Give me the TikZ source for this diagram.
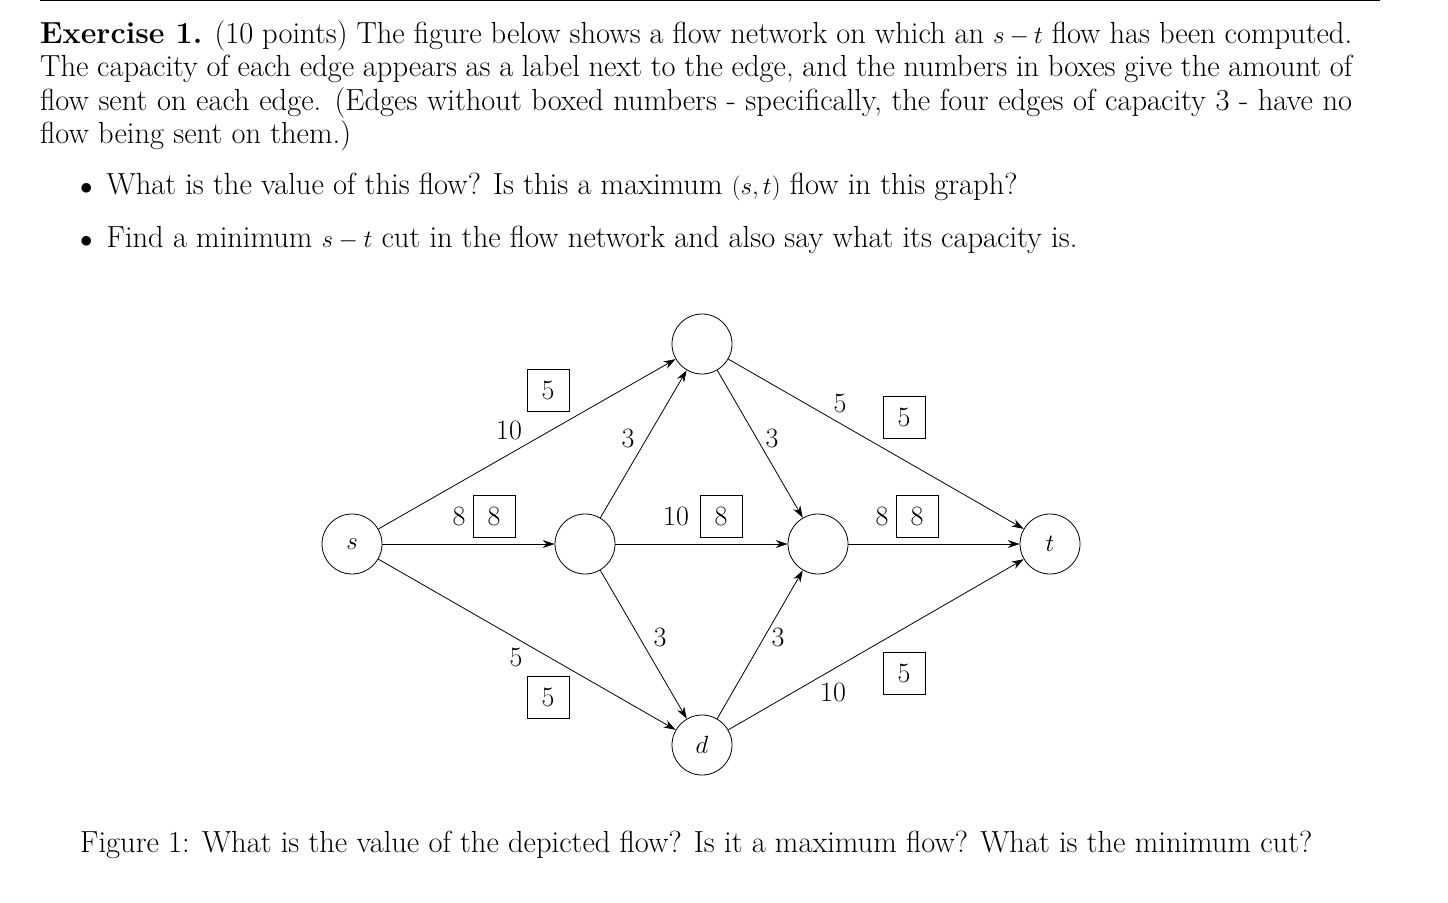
\documentclass[tikz,border=0pt]{standalone}
\usetikzlibrary{arrows.meta}
\begin{document}
\begin{tikzpicture}[x=1pt,y=-1pt,
  vtx/.style={circle,draw,thick,minimum size=60pt,inner sep=0pt,font=\fontsize{28}{30}\selectfont},
  edge/.style={thick,-{Stealth[length=12pt,width=8pt]}},
  caplbl/.style={font=\fontsize{28}{30}\selectfont,inner sep=0pt},
  fl/.style={draw,thick,minimum size=42pt,inner sep=0pt,font=\fontsize{28}{30}\selectfont},
  txt/.style={font=\fontsize{30.5}{33.5}\selectfont,inner sep=0pt}]
\useasboundingbox (0,0) rectangle (1448,902);
\draw[thin] (40,0) -- (1380,0);
\node[txt,anchor=north west,text width=1312pt,align=justify] (para) at (40,20)
{\textbf{Exercise 1.} (10 points) The figure below shows a flow network on which an $s-t$ flow has been computed. The capacity of each edge appears as a label next to the edge, and the numbers in boxes give the amount of flow sent on each edge. (Edges without boxed numbers - specifically, the four edges of capacity 3 - have no flow being sent on them.)};
\node[txt,anchor=base west] (b1) at (80,194) {$\bullet$\hspace{14pt}What is the value of this flow? Is this a maximum $(s,t)$ flow in this graph?};
\node[txt,anchor=base west] (b2) at (80,247) {$\bullet$\hspace{14pt}Find a minimum $s-t$ cut in the flow network and also say what its capacity is.};
\node[vtx] (s) at (352,544) {$s$};
\node[vtx] (a) at (702,344) {};
\node[vtx] (b) at (585,544) {};
\node[vtx] (c) at (818,544) {};
\node[vtx] (t) at (1050,544) {$t$};
\node[vtx] (d) at (702,745) {$d$};
\draw[edge] (s) -- (a);
\draw[edge] (s) -- (b);
\draw[edge] (s) -- (d);
\draw[edge] (b) -- (a);
\draw[edge] (a) -- (c);
\draw[edge] (a) -- (t);
\draw[edge] (b) -- (c);
\draw[edge] (c) -- (t);
\draw[edge] (b) -- (d);
\draw[edge] (d) -- (c);
\draw[edge] (d) -- (t);
\node[caplbl] (l1) at (509,430) {10}; \node[fl] (f1) at (548,390) {5};
\node[caplbl] (l2) at (459,516) {8}; \node[fl] (f2) at (494,516) {8};
\node[caplbl] (l3) at (628,438) {3};
\node[caplbl] (l4) at (772,438) {3};
\node[caplbl] (l5) at (840,403) {5}; \node[fl] (f5) at (904,417) {5};
\node[caplbl] (l6) at (676,516) {10}; \node[fl] (f6) at (721,516) {8};
\node[caplbl] (l7) at (882,516) {8}; \node[fl] (f7) at (917,516) {8};
\node[caplbl] (l8) at (660,637) {3};
\node[caplbl] (l9) at (778,637) {3};
\node[caplbl] (l10) at (516,657) {5}; \node[fl] (f10) at (548,697) {5};
\node[caplbl] (l11) at (833,692) {10}; \node[fl] (f11) at (904,673) {5};
\node[txt,anchor=base west] (figcap) at (80,852) {Figure 1: What is the value of the depicted flow? Is it a maximum flow? What is the minimum cut?};
\end{tikzpicture}
\end{document}
